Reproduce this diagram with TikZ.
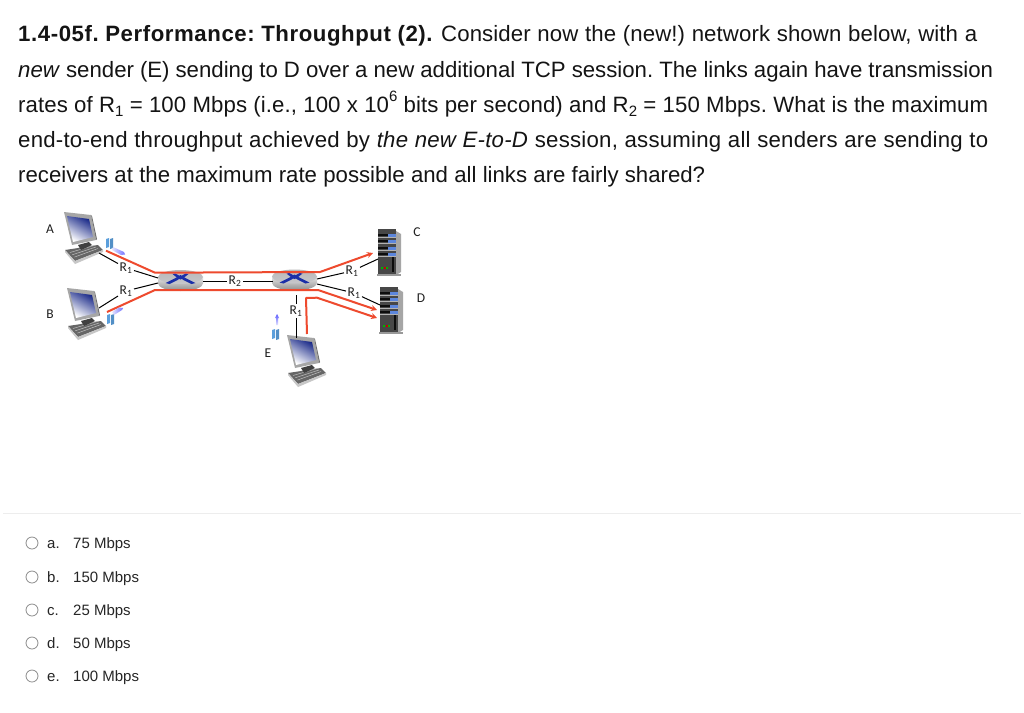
\documentclass[tikz,border=0pt]{standalone}
\usepackage{fontspec}
\setmainfont{Liberation Sans}
\newfontfamily\labfont{Carlito}
\newfontfamily\lsB[LetterSpace=2.6]{Liberation Sans}
\newfontfamily\lsA[LetterSpace=0.5]{Liberation Sans}
\newfontfamily\lsC[LetterSpace=0.4]{Liberation Sans}
\newfontfamily\lsD[LetterSpace=1.05]{Liberation Sans}
\usetikzlibrary{arrows.meta}
\definecolor{redlink}{HTML}{EE4A2E}
\definecolor{blueR}{HTML}{1B2FA8}
\definecolor{srvblue}{HTML}{5C86DC}
\definecolor{pkt}{HTML}{5B9FDC}
\newcommand{\subs}[1]{\raisebox{-0.22em}{\fontsize{15}{15}\selectfont #1}}
\newcommand{\sups}[1]{\raisebox{0.48em}{\fontsize{15}{15}\selectfont #1}}
\tikzset{
  x=1pt,y=-1pt,
  qline/.style={anchor=base west,inner sep=0pt,font=\fontsize{22.2}{26}\selectfont\frenchspacing,text=black!92},
  optc/.style={circle,draw=black!45,line width=.8pt,minimum size=12pt,inner sep=0pt},
  opt/.style={anchor=base west,inner sep=0pt,font=\fontsize{15}{16}\selectfont,text=black!85},
  lab/.style={font=\labfont\fontsize{13.5}{15}\selectfont,inner sep=1.5pt,text=black!88},
  blk/.style={draw=black,line width=1pt},
  redl/.style={draw=redlink,line width=2pt,line join=round,-{Stealth[length=6pt,width=6pt]}},
  redn/.style={draw=redlink,line width=2pt,line join=round},
  pics/computer/.style={code={
    \fill[black!60] (1,38) -- (34,33) -- (39,38) -- (11,49) -- cycle;
    \fill[black!22] (1,38) -- (11,49) -- (39,38) -- (39,40) -- (11,52) -- (1,40) -- cycle;
    \foreach \i in {0,1,2}{\draw[black!25,line width=.5pt] ({6+\i*2.2},{40.5+\i*2.3}) -- ({30+\i*2},{33.5+\i*1.5});}
    \fill[black!75] (14,33) -- (25,30) -- (28,33) -- (17,38) -- cycle;
    \fill[black!35] (0,0) -- (27,3) -- (32,28) -- (8,33) -- cycle;
    \fill[black!55] (27,3) -- (28,4) -- (33,27) -- (32,28) -- cycle;
    \shade[left color=blueR!80!black,right color=white,shading angle=-30]
      (3,4) -- (25,7) -- (29,25) -- (9,30) -- cycle;
  }},
  pics/server/.style={code={
    \fill[black!35] (18,2) -- (23,5) -- (23,43) -- (18,46) -- cycle;
    \fill[black!72] (0,0) -- (18,0) -- (18,46) -- (0,46) -- cycle;
    \fill[black!40] (-1,44.5) -- (23,44.5) -- (23,46.5) -- (-1,46.5) -- cycle;
    \foreach \y in {6,12,19,25}{
      \fill[black!95] (0,\y-.8) rectangle (18,{\y+1});
      \draw[black!30,line width=.5pt] (0,\y+2) -- (18,\y+2);
      \fill[srvblue] (10,\y-.6) rectangle (18,{\y+1.6});
    }
    \draw[black!95,line width=1.2pt] (15,28) -- (15,43);
    \fill[green!70!black] (3,38) rectangle (5,40);
    \fill[red!80!black] (5.5,38) rectangle (7.5,40);
    \fill[green!70!black] (8,38) rectangle (10,40);
  }},
  pics/routerbody/.style={code={
    \shade[top color=black!10,bottom color=black!45]
      (-22.5,-3) -- (-22.5,3.5) arc[start angle=180,end angle=0,x radius=22.5,y radius=7.5]
      -- (22.5,-3) -- cycle;
    \shade[top color=black!28,bottom color=blue!8!black!22] (0,-3) ellipse[x radius=22.5,y radius=7];
    \fill[blueR] (-15,3) -- (-5,-2) -- (0,-5) -- (5,-2) -- (15,3) -- (11,4) -- (3,0) -- (0,-2) -- (-3,0) -- (-11,4) -- cycle;
    \fill[blueR] (-8,-6) -- (-5,-6.5) -- (0,-3.5) -- (5,-6.5) -- (8,-6) -- (3,-2) -- (0,-0.5) -- (-3,-2) -- cycle;
  }},
  pics/packet/.style={code={
    \fill[pkt] (0,1) -- (3,0) -- (3,9) -- (0,10) -- cycle;
    \fill[pkt!90!black] (4,1) -- (7,0) -- (7,10) -- (4,11) -- cycle;
  }}
}
\begin{document}
\begin{tikzpicture}
\useasboundingbox (0,0) rectangle (1024,712);
\fill[white] (0,0) rectangle (1024,712);
% question text
\node[qline] (q1) at (18,41) {\makebox[423pt][l]{\lsB\makebox[415pt][s]{\textbf{1.4-05f. Performance: Throughput (2).}}}\makebox[536pt][s]{\lsA Consider now the (new!) network shown below, with a}};
\node[qline] (q2) at (18,77) {\makebox[975pt][s]{\textit{new} sender (E) sending to D over a new additional TCP session. The links again have transmission}};
\node[qline] (q3) at (18,112) {\makebox[970pt][s]{\lsC rates of R\subs{1} = 100 Mbps (i.e., 100 x 10\sups{6} bits per second) and R\subs{2} = 150 Mbps. What is the maximum}};
\node[qline] (q4) at (18,147) {\makebox[970pt][s]{\lsD end-to-end throughput achieved by \textit{the new E-to-D} session, assuming all senders are sending to}};
\node[qline] (q5) at (18,182) {\makebox[687pt][s]{receivers at the maximum rate possible and all links are fairly shared?}};
% named link points
\coordinate (aS) at (106,250.7); \coordinate (aM) at (155,272.7);
\coordinate (bS) at (107,312); \coordinate (bM) at (155,290);
\coordinate (tR) at (320,272); \coordinate (lR) at (318,290);
\coordinate (cT) at (373,253); \coordinate (dT) at (377,310);
\coordinate (eS) at (307,334); \coordinate (eC) at (306,298); \coordinate (eM) at (317,297.7); \coordinate (eT) at (377,318);
\coordinate (aP) at (99,253); \coordinate (bP) at (99,308);
\coordinate (r1w1) at (158,278); \coordinate (r1w2) at (158,283); \coordinate (r1e) at (203,281);
\coordinate (r2w) at (273,281); \coordinate (r2e1) at (317,279); \coordinate (r2e2) at (317,284);
\coordinate (r2s) at (296,295); \coordinate (cP) at (378,259); \coordinate (dP) at (380,305); \coordinate (eP) at (296,338);
% hosts
\pic at (64,212) {computer};
\pic at (67,288) {computer};
\pic at (287,335) {computer};
\pic at (378,229) {server};
\pic at (380,287) {server};
\pic at (180.5,280) {routerbody};
\pic at (294.5,279.5) {routerbody};
% link labels
\node[lab] (la) at (126,268) {R\textsubscript{1}};
\node[lab] (lb) at (126,291) {R\textsubscript{1}};
\node[lab] (lr) at (235,281) {R\textsubscript{2}};
\node[lab] (lc) at (352,271) {R\textsubscript{1}};
\node[lab] (ld) at (354,293) {R\textsubscript{1}};
\node[lab] (le) at (296,311) {R\textsubscript{1}};
% black links
\draw[blk] (aP) -- (la); \draw[blk] (la) -- (r1w1);
\draw[blk] (bP) -- (lb); \draw[blk] (lb) -- (r1w2);
\draw[blk] (r1e) -- (lr); \draw[blk] (lr) -- (r2w);
\draw[blk] (r2e1) -- (lc); \draw[blk] (lc) -- (cP);
\draw[blk] (r2e2) -- (ld); \draw[blk] (ld) -- (dP);
\draw[blk] (r2s) -- (le); \draw[blk] (le) -- (eP);
% red routes
\draw[redn] (aS) -- (aM) -- (tR);
\draw[redl] (tR) -- (cT);
\draw[redl] (bS) -- (bM) -- (lR) -- (dT);
\draw[redl] (eS) -- (eC) -- (eM) -- (eT);
% packets
\pic at (106,238) {packet};
\pic at (107,314) {packet};
\pic at (272,329) {packet};
\shade[left color=blue!10,right color=blue!55] (113,247) -- (124,252) -- (125,254.5) -- (121,255) -- (112,250) -- cycle;
\shade[left color=blue!10,right color=blue!55] (114,315) -- (122,310) -- (123,308) -- (119,307.5) -- (112,312) -- cycle;
\shade[bottom color=blue!10,top color=blue!65] (276,325) -- (276,318) -- (275,318) -- (277,314) -- (279,318) -- (278,318) -- (278,325) -- cycle;
% host names
\node[lab] (nA) at (50,229) {A};
\node[lab] (nB) at (50,314) {B};
\node[lab] (nC) at (417,232) {C};
\node[lab] (nD) at (421,298) {D};
\node[lab] (nE) at (268,353) {E};
% separator
\draw[black!7,line width=.8pt] (3,513) -- (1021,513);
% options
\foreach \n/\y/\l/\v in {a/543/a./75 Mbps,b/577/b./150 Mbps,c/610/c./25 Mbps,d/643/d./50 Mbps,e/676/e./100 Mbps}{
  \node[optc] (r\n) at (32,\y) {};
  \node[opt] (l\n) at (47,\y+5) {\l};
  \node[opt] (v\n) at (73,\y+5) {\v};
}
\end{tikzpicture}
\end{document}
